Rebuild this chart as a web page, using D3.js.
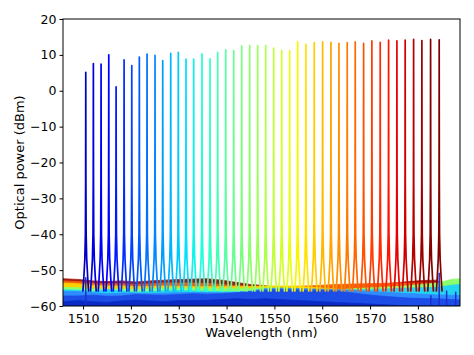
<!DOCTYPE html>
<html><head><meta charset="utf-8">
<script src="https://cdn.jsdelivr.net/npm/d3@7"></script>
<style>body{margin:0;background:#fff}svg{display:block}text{font-family:"DejaVu Sans",sans-serif;fill:#000}</style>
</head><body><svg id="c" width="474" height="355"></svg>
<script>
// Channel centre wavelengths (nm) and peak powers (dBm)
const channelWl = [1510.56,1512.15,1513.76,1515.37,1516.90,1518.57,1520.18,1521.76,1523.37,1525.04,
  1526.65,1528.32,1529.91,1531.52,1533.13,1534.86,1536.54,1538.14,1539.82,1541.49,
  1543.16,1544.83,1546.50,1548.17,1549.85,1551.52,1553.19,1554.86,1556.59,1558.33,
  1560.08,1561.82,1563.49,1565.22,1566.90,1568.65,1570.38,1572.12,1573.87,1575.61,
  1577.34,1579.10,1580.83,1582.65,1584.45];
const channelPeak = [5.1,7.6,7.4,10.0,1.1,8.6,7.0,9.4,10.2,9.9,
  8.4,10.4,10.7,8.8,8.8,10.3,8.9,10.7,11.4,11.2,
  12.5,12.6,12.6,12.6,11.9,11.2,11.1,13.6,12.9,13.4,
  13.6,13.5,13.2,13.4,13.6,13.2,13.9,13.5,14.1,13.9,
  14.1,14.3,14.0,14.3,14.2];
// Line skirt: offset from centre (nm) and level (dBm)
const skirtOffset = [0.6, 0.4, 0.2, 0.08, 0.03];
const skirtLevel  = [-56, -52, -47, -40, -25];

// Noise floor: sample wavelengths and top edge (dBm) of each coloured layer
const floorWl = [1505.8,1509,1512,1515,1518,1521,1524,1527,1530,1533,1536,1539,1542,1545,1548,1551,1554,1557,1560,1563,1566,1569,1572,1575,1578,1581,1584,1587,1588.8];
const floorDarkRed = [-52.4,-52.6,-53.0,-53.2,-53.0,-53.3,-53.0,-52.8,-52.6,-52.5,-52.4,-52.8,-53.4,-54.0,-54.3,-55,-56,-56,-56,-56,-55.5,-54.5,-54.0,-53.6,-53.2,-52.9,-52.8,-56,-56];
const floorOrange  = [-53.0,-53.2,-53.6,-53.8,-53.8,-54.0,-53.8,-53.6,-53.6,-53.6,-53.7,-54.0,-54.3,-54.5,-54.6,-54.6,-54.5,-54.4,-54.2,-54.0,-53.9,-53.8,-53.7,-53.6,-53.6,-53.6,-53.6,-56,-56];
const floorYellow  = [-53.6,-53.8,-54.2,-54.4,-54.4,-54.6,-54.5,-54.4,-54.5,-54.6,-54.6,-54.6,-54.6,-54.6,-54.4,-54.4,-54.5,-54.7,-55.0,-55.3,-55.6,-55.8,-56,-56.3,-56.5,-56.5,-56.5,-56.5,-56.5];
const floorGreen   = [-54.8,-54.9,-55.2,-55.3,-55.2,-55.4,-55.2,-55.0,-55.0,-55.1,-55.2,-55.2,-55.2,-55.2,-55.0,-55.0,-55.3,-55.6,-55.8,-55.6,-55.2,-55.0,-54.8,-54.6,-54.3,-54.0,-53.6,-52.6,-52.4];
const floorCyan    = [-55.5,-55.6,-56.0,-55.4,-55.8,-56.2,-56.0,-55.8,-55.7,-55.8,-55.9,-56.0,-56.0,-56.0,-55.5,-55.4,-55.6,-55.8,-56.0,-55.8,-55.5,-55.4,-55.3,-55.2,-55.0,-54.9,-54.8,-54.2,-54.0];
const floorLtBlue  = [-55.9,-56.0,-56.3,-56.6,-56.4,-56.4,-56.5,-56.4,-56.3,-56.2,-56.3,-56.3,-56.2,-55.8,-55.2,-55.0,-55.1,-55.2,-55.3,-55.4,-55.6,-55.9,-56.1,-56.3,-56.5,-56.7,-56.9,-57.0,-57.0];
const floorBlue    = [-57.2,-57.2,-57.0,-57.3,-57.2,-56.8,-56.9,-57.0,-56.8,-56.6,-56.7,-56.6,-56.3,-56.0,-55.6,-55.4,-55.5,-55.6,-55.6,-55.8,-56.3,-56.8,-57.2,-57.5,-57.8,-57.9,-58.0,-58.2,-58.3];
const floorDkBlue  = [-58.8,-58.5,-58.8,-59.0,-58.6,-58.4,-58.6,-58.8,-58.5,-58.5,-58.4,-58.2,-58.0,-58.2,-58.0,-58.2,-58.4,-58.6,-58.8,-59.0,-59.2,-59.4,-59.6,-59.8,-60,-60,-60,-60,-60];

// Blue spurs reaching up from the bottom
const spurWl  = [1510.56, 1582.7, 1584.45, 1586.0, 1587.9];
const spurTop = [-52, -57, -50.7, -55.7, -56];

const xTicks = [1510,1520,1530,1540,1550,1560,1570,1580];
const yTicks = [-60,-50,-40,-30,-20,-10,0,10,20];

const M = {l:63, t:19, r:460, b:306};
const svg = d3.select('#c');
const x = d3.scaleLinear().domain([1505.8, 1588.8]).range([M.l, M.r]);
const y = d3.scaleLinear().domain([-60, 20]).range([M.b, M.t]);

function jet(t){
  t = Math.max(0, Math.min(1, t));
  const f = (pts)=>{ for(let i=1;i<pts.length;i++){ if(t<=pts[i][0]){const a=pts[i-1],b=pts[i];return a[1]+(b[1]-a[1])*(t-a[0])/(b[0]-a[0]);}} return pts[pts.length-1][1]; };
  const r=f([[0,0],[0.35,0],[0.66,1],[0.89,1],[1,0.5]]);
  const g=f([[0,0],[0.125,0],[0.375,1],[0.64,1],[0.91,0],[1,0]]);
  const b=f([[0,0.5],[0.11,1],[0.34,1],[0.65,0],[1,0]]);
  return d3.rgb(r*255,g*255,b*255).toString();
}
const colorT = d3.scaleLinear().domain([0, channelWl.length-1]).range([0.06, 1.02]);

svg.append('defs').append('clipPath').attr('id','clip').append('rect')
  .attr('x',M.l).attr('y',M.t).attr('width',M.r-M.l).attr('height',M.b-M.t);
const plot = svg.append('g').attr('clip-path','url(#clip)');

const layers = [
  [floorDarkRed,'#a3180e'],[floorOrange,'#f2600f'],[floorYellow,'#ffd000'],
  [floorGreen,'#8cff6c'],[floorCyan,'#22d6f2'],[floorLtBlue,'#2e8cff'],
  [floorBlue,'#1c4de6'],[floorDkBlue,'#0b2bc6']
];
const area = d3.area().x(d=>x(d[0])).y0(y(-60)).y1(d=>y(d[1]));
layers.forEach(([lv,col])=>{
  plot.append('path').datum(floorWl.map((w,i)=>[w,lv[i]]))
    .attr('d',area).attr('fill',col).attr('stroke',col).attr('stroke-width',0.8);
});

const line = d3.line().x(d=>x(d[0])).y(d=>y(d[1]));
spurWl.forEach((w,i)=>{
  plot.append('path').datum([[w,-60],[w,spurTop[i]]]).attr('d',line)
    .attr('stroke','#1a2fd0').attr('stroke-width',1.5).attr('fill','none');
});

channelWl.forEach((w,i)=>{
  const pts=[];
  for(let k=0;k<skirtOffset.length;k++) pts.push([w-skirtOffset[k], skirtLevel[k]]);
  pts.push([w, channelPeak[i]]);
  for(let k=skirtOffset.length-1;k>=0;k--) pts.push([w+skirtOffset[k], skirtLevel[k]]);
  plot.append('path').datum(pts).attr('d',line).attr('fill','none')
    .attr('stroke',jet(colorT(i))).attr('stroke-width',1.7).attr('stroke-linejoin','round');
});

// axes
const xa = svg.append('g').attr('transform',`translate(0,${M.b})`)
  .call(d3.axisBottom(x).tickValues(xTicks).tickFormat(d3.format('d')).tickSize(3.5).tickPadding(4.5));
const ya = svg.append('g').attr('transform',`translate(${M.l},0)`)
  .call(d3.axisLeft(y).tickValues(yTicks).tickSize(3.5).tickPadding(3));
[xa,ya].forEach(a=>{a.select('.domain').remove();a.selectAll('text').attr('font-size','12.5px').attr('font-family','DejaVu Sans');a.selectAll('line').attr('stroke','#000');});

svg.append('rect').attr('x',M.l).attr('y',M.t).attr('width',M.r-M.l).attr('height',M.b-M.t)
  .attr('fill','none').attr('stroke','#000').attr('stroke-width',1);

svg.append('text').attr('x',(M.l+M.r)/2).attr('y',337).attr('text-anchor','middle')
  .attr('font-size','13px').text('Wavelength (nm)');
svg.append('text').attr('transform',`translate(24,${(M.t+M.b)/2}) rotate(-90)`).attr('text-anchor','middle')
  .attr('font-size','13px').text('Optical power (dBm)');
</script></body></html>
